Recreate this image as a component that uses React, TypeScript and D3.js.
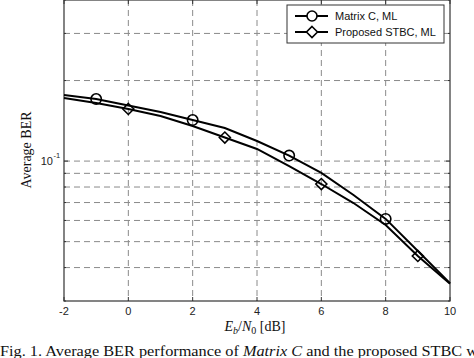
import React from "react";
import * as d3 from "d3";

const snr = [-2, -1, 0, 1, 2, 3, 4, 5, 6, 7, 8, 9, 10];
const berMatrixC = [0.1766, 0.1706, 0.1614, 0.1526, 0.1424, 0.133, 0.1189, 0.1049, 0.0903, 0.0747, 0.0608, 0.0461, 0.035];
const berProposed = [0.172, 0.1649, 0.1566, 0.1474, 0.1353, 0.1225, 0.111, 0.0958, 0.0821, 0.0697, 0.0577, 0.0442, 0.0348];
const markersMatrixC = [-1, 2, 5, 8];
const markersProposed = [0, 3, 6, 9];
const xTicks = [-2, 0, 2, 4, 6, 8, 10];
const yGrid = [0.03, 0.04, 0.05, 0.06, 0.07, 0.08, 0.09, 0.1, 0.2, 0.3, 0.4];
const legendLabels = ["Matrix C, ML", "Proposed STBC, ML"];
const caption = "Fig. 1. Average BER performance of ";

export default function App() {
  const left = 64, right = 450, top = 0, bottom = 301;
  const x = d3.scaleLinear().domain([-2, 10]).range([left, right]);
  const y = d3.scaleLog().domain([0.03, 0.4]).range([bottom, top]);
  const line = d3.line<number>().x((_, i) => x(snr[i])).y((d) => y(d));
  const grid = "#8a8a8a";
  const sans = "Arial, 'Liberation Sans', sans-serif";
  const serif = "'Times New Roman', 'Liberation Serif', serif";
  const valAt = (arr: number[], s: number) => arr[snr.indexOf(s)];
  const diamond = (cx: number, cy: number, r: number) =>
    `M${cx},${cy - r}L${cx + r},${cy}L${cx},${cy + r}L${cx - r},${cy}Z`;

  return (
    <svg width={474} height={358} style={{ position: "absolute", left: 0, top: 0, background: "#fff" }}>
      <rect x={0} y={0} width={474} height={358} fill="#fff" />
      {/* grid */}
      {xTicks.filter((t) => t > -2 && t < 10).map((t) => (
        <line key={"gx" + t} x1={x(t)} x2={x(t)} y1={top} y2={bottom} stroke={grid} strokeWidth={1} strokeDasharray="6,4" />
      ))}
      {yGrid.filter((v) => v > 0.03 && v < 0.4).map((v) => (
        <line key={"gy" + v} x1={left} x2={right} y1={y(v)} y2={y(v)} stroke={grid} strokeWidth={1} strokeDasharray="6,4" />
      ))}
      {/* frame */}
      <rect x={left} y={top} width={right - left} height={bottom - top} fill="none" stroke="#333" strokeWidth={1.2} />
      {/* ticks */}
      {xTicks.map((t) => (
        <g key={"tx" + t}>
          <line x1={x(t)} x2={x(t)} y1={bottom} y2={bottom - 4} stroke="#333" />
          <line x1={x(t)} x2={x(t)} y1={top} y2={top + 4} stroke="#333" />
          <text x={x(t)} y={315} textAnchor="middle" fontFamily={sans} fontSize={11} fill="#222">{t}</text>
        </g>
      ))}
      {yGrid.map((v) => (
        <g key={"ty" + v}>
          <line x1={left} x2={left + (v === 0.1 ? 4 : 2)} y1={y(v)} y2={y(v)} stroke="#333" />
          <line x1={right} x2={right - (v === 0.1 ? 4 : 2)} y1={y(v)} y2={y(v)} stroke="#333" />
        </g>
      ))}
      <text x={53} y={y(0.1) + 4} textAnchor="end" fontFamily={sans} fontSize={11} fill="#222">10</text>
      <text x={53.5} y={y(0.1) - 3} fontFamily={sans} fontSize={7.5} fill="#222">-1</text>
      {/* curves */}
      <path d={line(berMatrixC) || ""} fill="none" stroke="#000" strokeWidth={2} />
      <path d={line(berProposed) || ""} fill="none" stroke="#000" strokeWidth={2} />
      {markersMatrixC.map((s) => (
        <circle key={"mc" + s} cx={x(s)} cy={y(valAt(berMatrixC, s))} r={5.2} fill="none" stroke="#000" strokeWidth={1.6} />
      ))}
      {markersProposed.map((s) => (
        <path key={"mp" + s} d={diamond(x(s), y(valAt(berProposed, s)), 5.5)} fill="none" stroke="#000" strokeWidth={1.6} />
      ))}
      {/* legend */}
      <rect x={287} y={5} width={157} height={38} fill="#fff" stroke="#333" strokeWidth={1} />
      {legendLabels.map((lab, i) => {
        const ly = 16 + i * 16;
        return (
          <g key={lab}>
            <line x1={295} x2={328} y1={ly} y2={ly} stroke="#000" strokeWidth={2} />
            {i === 0 ? (
              <circle cx={312} cy={ly} r={5} fill="#fff" stroke="#000" strokeWidth={1.6} />
            ) : (
              <path d={diamond(312, ly, 5.5)} fill="#fff" stroke="#000" strokeWidth={1.6} />
            )}
            <text x={335} y={ly + 4} fontFamily={sans} fontSize={11} fill="#111">{lab}</text>
          </g>
        );
      })}
      {/* axis labels */}
      <text transform="translate(31,150) rotate(-90)" textAnchor="middle" fontFamily={serif} fontSize={14} fill="#111">Average BER</text>
      <text x={255} y={331} textAnchor="middle" fontFamily={serif} fontSize={14} fill="#111">
        <tspan fontStyle="italic">E</tspan>
        <tspan fontStyle="italic" fontSize={10} dy={3}>b</tspan>
        <tspan dy={-3}>/</tspan>
        <tspan fontStyle="italic">N</tspan>
        <tspan fontSize={10} dy={3}>0</tspan>
        <tspan dy={-3}> [dB]</tspan>
      </text>
      {/* caption */}
      <text x={0} y={356} fontFamily={serif} fontSize={14.5} fill="#111" textLength={478} lengthAdjust="spacingAndGlyphs">
        {caption}
        <tspan fontStyle="italic">Matrix C</tspan>
        <tspan> and the proposed STBC w</tspan>
      </text>
    </svg>
  );
}
